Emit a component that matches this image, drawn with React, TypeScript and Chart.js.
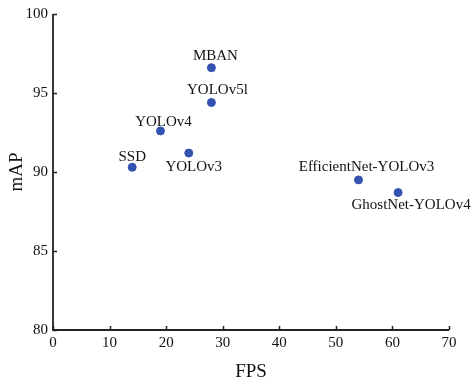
import React, { useEffect, useRef } from "react";
import { Chart, registerables } from "chart.js";

Chart.register(...registerables);

const modelNames = ["SSD", "YOLOv4", "YOLOv3", "YOLOv5l", "MBAN", "EfficientNet-YOLOv3", "GhostNet-YOLOv4"];
const fpsValues = [14, 19, 24, 28, 28, 54, 61];
const mapValues = [90.3, 92.6, 91.2, 94.4, 96.6, 89.5, 88.7];
const xTicks = [0, 10, 20, 30, 40, 50, 60, 70];
const yTicks = [80, 85, 90, 95, 100];

// label placement (dx, dy in px relative to the point)
const labelOffsets: [number, number][] = [
  [0, -10],
  [3, -9],
  [5, 14],
  [6, -12],
  [4, -12],
  [8, -13],
  [13, 13],
];

const FONT = "'Liberation Serif', 'DejaVu Serif', serif";

const overlayPlugin = {
  id: "overlay",
  afterDatasetsDraw(chart: any) {
    const ctx = chart.ctx;
    const xs = chart.scales.x;
    const ys = chart.scales.y;
    const area = chart.chartArea;
    ctx.save();
    // inward ticks
    ctx.strokeStyle = "#222";
    ctx.lineWidth = 1.5;
    ctx.beginPath();
    xTicks.forEach((v) => {
      const px = Math.round(xs.getPixelForValue(v)) + 0.5;
      ctx.moveTo(px, area.bottom);
      ctx.lineTo(px, area.bottom - 4);
    });
    yTicks.forEach((v) => {
      const py = Math.round(ys.getPixelForValue(v)) + 0.5;
      ctx.moveTo(area.left, py);
      ctx.lineTo(area.left + 4, py);
    });
    ctx.stroke();
    // axis lines
    ctx.lineWidth = 1.8;
    ctx.beginPath();
    ctx.moveTo(area.left, area.top);
    ctx.lineTo(area.left, area.bottom);
    ctx.lineTo(area.right, area.bottom);
    ctx.stroke();
    // labels
    ctx.fillStyle = "#111";
    ctx.font = `15px ${FONT}`;
    ctx.textAlign = "center";
    ctx.textBaseline = "middle";
    modelNames.forEach((name, i) => {
      const px = xs.getPixelForValue(fpsValues[i]);
      const py = ys.getPixelForValue(mapValues[i]);
      const [dx, dy] = labelOffsets[i];
      ctx.fillText(name, px + dx, py + dy);
    });
    ctx.restore();
  },
};

export default function App() {
  const ref = useRef<HTMLCanvasElement | null>(null);
  useEffect(() => {
    document.body.style.margin = "0";
    if (!ref.current) return;
    const chart = new Chart(ref.current, {
      type: "scatter",
      data: {
        datasets: [
          {
            data: fpsValues.map((x, i) => ({ x, y: mapValues[i] })),
            backgroundColor: "#3452b0",
            borderColor: "#3452b0",
            pointRadius: 4,
            pointHoverRadius: 4,
          },
        ],
      },
      options: {
        animation: false,
        responsive: false,
        layout: { padding: { top: 13, right: 25, left: 0, bottom: 0 } },
        plugins: { legend: { display: false }, tooltip: { enabled: false } },
        scales: {
          x: {
            type: "linear",
            min: 0,
            max: 70,
            afterBuildTicks: (s: any) => {
              s.ticks = xTicks.map((v) => ({ value: v }));
            },
            afterFit: (s: any) => {
              s.height = 53;
            },
            grid: { display: false, drawTicks: false },
            border: { display: false },
            ticks: { color: "#111", font: { family: FONT, size: 15 }, padding: 4 },
            title: {
              display: true,
              text: "FPS",
              color: "#111",
              font: { family: FONT, size: 19 },
              padding: { top: 4, bottom: 0 },
            },
          },
          y: {
            type: "linear",
            min: 80,
            max: 100,
            afterBuildTicks: (s: any) => {
              s.ticks = yTicks.map((v) => ({ value: v }));
            },
            afterFit: (s: any) => {
              s.width = 53;
            },
            grid: { display: false, drawTicks: false },
            border: { display: false },
            ticks: { color: "#111", font: { family: FONT, size: 15 }, padding: 5 },
            title: {
              display: true,
              text: "mAP",
              color: "#111",
              font: { family: FONT, size: 19 },
              padding: { top: 6, bottom: 0 },
            },
          },
        },
      },
      plugins: [overlayPlugin],
    });
    return () => chart.destroy();
  }, []);
  return (
    <div style={{ width: 474, height: 383, background: "#fff" }}>
      <canvas ref={ref} width={474} height={383} style={{ display: "block" }} />
    </div>
  );
}
